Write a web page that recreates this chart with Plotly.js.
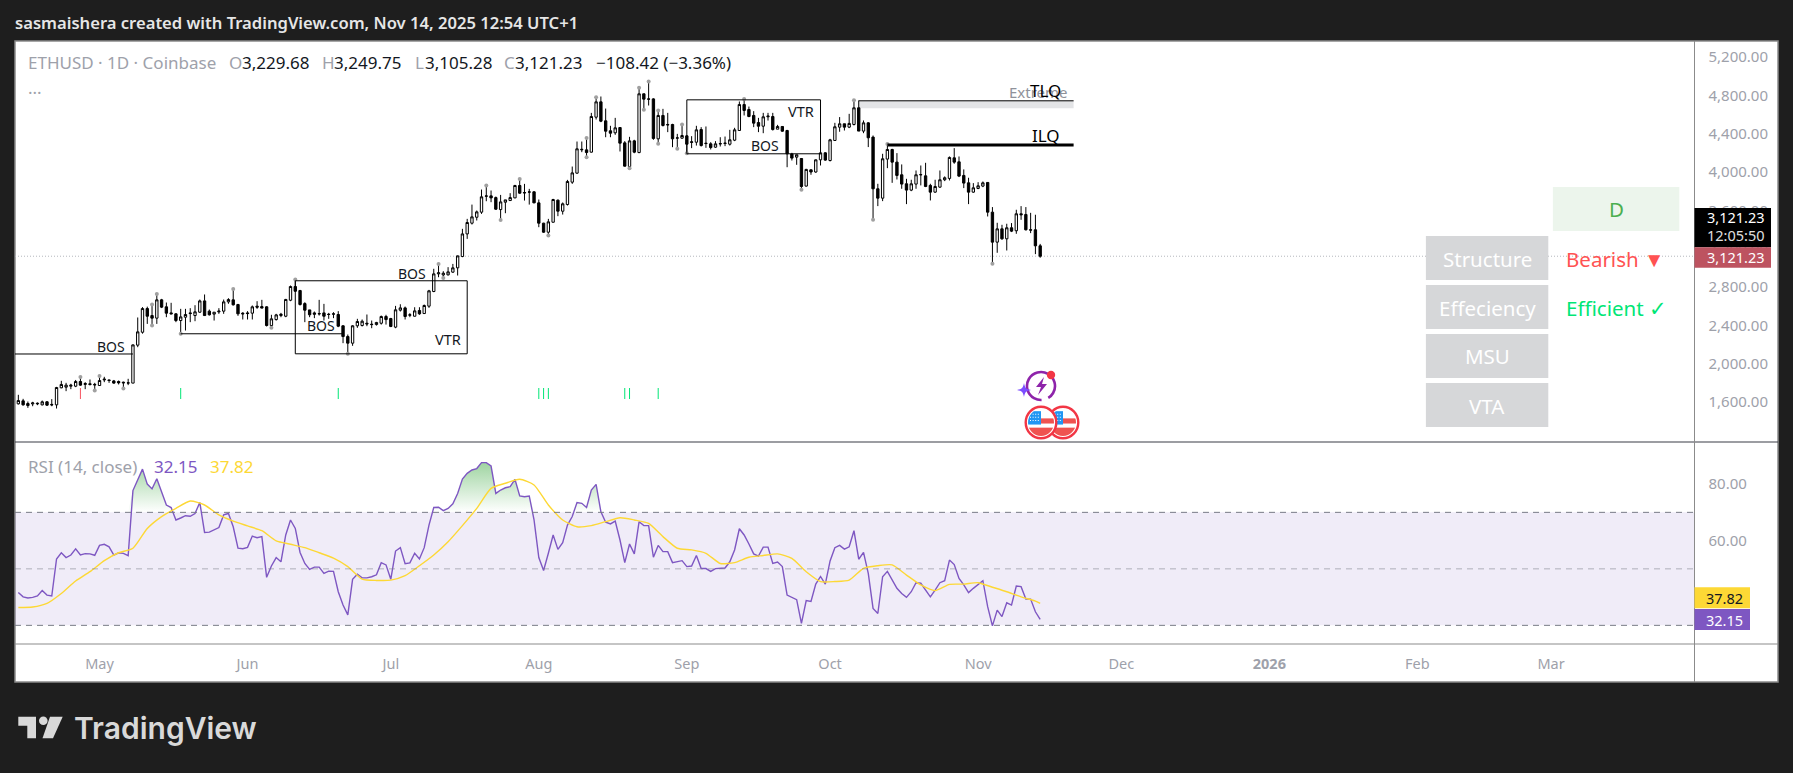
<!DOCTYPE html>
<html><head><meta charset="utf-8">
<script src="https://cdn.plot.ly/plotly-3.0.1.min.js"></script>
<style>html,body{margin:0;padding:0;background:#1e1e1e;overflow:hidden}#c{width:1793px;height:773px}</style>
</head><body><div id="c"></div>
<script>
const firstBar = '2025-04-14';
const opens = [
1581,1612,1584,1580,1580,1570,1602,1575,1570,1748,1755,1765,1765,1814,1783,1790,1784,
1772,1830,1830,1820,1814,1807,1797,1797,2193,2328,2575,2502,2475,2666,2593,2530,2520,2450,2485,2530,2502,2537,2655,2548,2517,2540,2548,2645,2666,2617,2527,
2530,2527,2600,2596,2593,2398,2460,2502,2495,2662,2805,2763,2627,2561,2530,2523,2530,2516,2520,2513,2395,2283,2214,2395,2398,2422,2412,2408,2422,2492,
2471,2381,2558,2582,2505,2495,2555,2523,2600,2753,2937,2926,2927,2955,3000,3118,3354,3466,3528,3581,3747,3751,3733,3608,3685,3702,3730,3859,3786,3790,3793,
3678,3466,3372,3476,3706,3591,3661,3894,3988,4231,4231,4207,4572,4732,4534,4430,4409,4464,4304,4057,4325,4203,4816,4763,4763,4346,4590,4496,4496,4353,4353,
4377,4308,4311,4443,4301,4294,4259,4297,4297,4290,4332,4433,4704,4652,4590,4516,4478,4576,4579,4447,4475,4433,4187,4155,4141,3853,4023,4000,4127,4200,
4120,4329,4468,4503,4468,4496,4670,4427,4513,4364,3825,3727,4135,4235,4103,3971,3877,3811,3874,3974,3960,3860,3790,3842,3919,3933,4148,4106,3964,3887,3790,
3828,3853,3891,3581,3268,3407,3303,3418,3387,3564,3557,3397,3397,3229.68];
const highs = [
1675,1633,1605,1602,1595,1615,1610,1630,1758,1821,1800,1790,1830,1860,1807,1835,1800,
1870,1863,1832,1830,1824,1812,1842,2200,2482,2590,2595,2617,2728,2676,2638,2635,2527,2572,2572,2579,2610,2669,2722,2565,2537,2579,2669,2683,2780,2624,2537,
2548,2607,2652,2666,2600,2510,2520,2530,2676,2815,2878,2770,2641,2561,2544,2666,2624,2530,2537,2548,2401,2304,2401,2468,2461,2513,2450,2436,2502,2510,
2478,2603,2620,2596,2527,2589,2589,2617,2770,2990,3041,2965,3007,3041,3128,3407,3511,3660,3598,3817,3859,3807,3744,3761,3709,3779,3866,3928,3876,3824,3800,
3713,3470,3511,3720,3713,3682,3918,4057,4318,4318,4356,4617,4781,4788,4662,4482,4565,4468,4322,4367,4336,4878,4816,4944,4770,4642,4659,4617,4503,4398,4496,
4384,4374,4482,4468,4475,4311,4322,4363,4370,4440,4461,4736,4763,4683,4635,4565,4617,4617,4617,4492,4478,4440,4200,4180,4145,4033,4027,4131,4225,4207,
4346,4513,4573,4503,4607,4750,4746,4538,4520,4381,3877,4190,4291,4242,4197,4079,3929,3919,4016,4068,4096,3877,3919,4016,3954,4162,4249,4162,4027,3940,3884,
3894,3901,3894,3634,3470,3449,3460,3467,3606,3644,3634,3574,3554,3249.75];
const lows = [
1574,1563,1539,1556,1567,1565,1558,1556,1532,1744,1713,1734,1755,1770,1734,1772,1720,
1770,1807,1800,1790,1783,1741,1776,1797,2172,2313,2415,2398,2415,2580,2485,2516,2433,2311,2346,2433,2443,2530,2499,2502,2450,2520,2520,2625,2607,2499,2461,
2461,2461,2572,2578,2388,2374,2450,2485,2485,2652,2750,2607,2433,2485,2475,2502,2450,2468,2475,2381,2214,2103,2186,2374,2388,2391,2370,2398,2408,2408,
2381,2370,2544,2461,2485,2492,2510,2520,2582,2746,2902,2895,2920,2948,2920,3111,3302,3452,3494,3563,3695,3685,3605,3500,3570,3702,3727,3772,3702,3660,3675,
3424,3365,3337,3473,3539,3556,3650,3876,3981,4207,4155,4203,4548,4520,4363,4363,4388,4214,4057,4040,4196,4196,4649,4694,4336,4294,4475,4416,4259,4242,4346,
4196,4249,4276,4266,4252,4235,4252,4266,4270,4276,4322,4429,4590,4572,4468,4416,4405,4537,4433,4447,4420,4050,4120,4075,3814,3849,3971,3992,4068,4117,
4110,4326,4420,4433,4458,4486,4427,4405,4260,3501,3644,3696,4040,3887,3922,3825,3665,3800,3825,3860,3842,3703,3783,3835,3905,3912,4086,3947,3832,3665,3783,
3821,3842,3536,3042,3157,3293,3181,3373,3355,3501,3390,3362,3143,3105.28];
const closes = [
1615,1570,1563,1590,1586,1602,1567,1570,1751,1783,1776,1775,1814,1776,1793,1783,1779,
1824,1838,1825,1797,1800,1800,1800,2196,2332,2575,2495,2475,2666,2590,2527,2520,2450,2488,2513,2523,2541,2655,2502,2510,2537,2548,2645,2669,2614,2520,2520,
2523,2593,2590,2580,2398,2468,2509,2516,2670,2805,2756,2617,2558,2510,2516,2520,2495,2513,2517,2391,2283,2214,2395,2440,2443,2415,2408,2430,2492,2460,
2388,2562,2582,2492,2510,2551,2520,2607,2760,2937,2948,2944,2958,3000,3125,3354,3473,3532,3584,3741,3750,3730,3612,3688,3709,3733,3859,3779,3782,3792,3678,
3466,3372,3480,3713,3591,3668,3901,3991,4242,4236,4203,4579,4732,4530,4426,4405,4461,4301,4061,4325,4207,4816,4760,4760,4350,4590,4485,4492,4346,4356,4381,
4290,4315,4440,4276,4297,4255,4294,4294,4301,4336,4440,4704,4642,4579,4510,4478,4576,4583,4443,4475,4426,4190,4145,4180,3849,4027,4000,4127,4200,4124,
4336,4472,4503,4468,4507,4670,4427,4513,4357,3825,3727,4138,4235,4103,3964,3874,3811,3877,3971,3971,3849,3790,3849,3919,3940,4152,4103,3957,3884,3790,3835,
3856,3887,3581,3268,3407,3303,3418,3383,3564,3554,3397,3394,3229.65,3121.23];
const rsi = [
41.6,40.1,39.7,39.9,40.4,42.3,40.7,40.4,53.5,55.7,54.0,54.9,57.1,54.9,55.4,55.3,54.8,58.3,58.7,57.8,54.9,55.7,55.5,54.7,
77.7,81.4,85.3,80.0,78.3,81.9,77.3,72.6,71.7,67.3,
68.0,68.8,68.6,69.6,73.5,62.9,63.0,63.9,64.6,69.1,
69.6,64.9,57.3,57.1,57.6,61.6,61.0,61.4,47.0,51.0,
54.0,52.5,62.0,67.3,64.3,55.8,51.9,49.8,50.6,50.6,
48.4,49.2,49.1,41.9,37.2,33.7,46.3,48.1,46.8,46.8,
47.2,47.9,52.2,51.4,46.3,56.3,57.5,51.8,52.1,55.5,
53.5,57.5,65.5,71.7,71.8,70.6,71.4,73.0,76.7,81.8,
83.8,85.0,85.5,87.6,87.6,86.4,76.7,77.9,78.7,79.1,
81.7,75.8,75.5,75.8,67.3,54.0,49.4,55.5,62.0,56.9,
59.3,65.5,68.5,73.5,73.2,71.7,77.9,79.9,
70.2,66.5,65.9,66.9,60.2,52.2,58.8,55.3,
66.7,65.3,65.3,54.1,58.3,56.1,56.1,52.2,52.5,52.9,
50.8,51.0,54.7,50.1,50.1,49.1,50.1,50.2,50.3,52.5,
56.7,64.2,62.0,58.8,55.3,54.5,57.7,57.7,51.9,52.4,
50.8,40.7,39.9,39.1,30.7,38.8,38.5,44.6,47.3,44.6,
52.8,57.5,58.3,57.0,57.8,63.5,53.4,55.8,48.4,36.0,
34.2,47.2,49.1,46.0,43.1,41.3,39.9,41.9,45.1,44.9,
42.5,40.1,42.5,45.1,45.8,53.1,51.5,46.6,44.3,41.6,
43.1,44.3,45.8,36.6,29.8,35.4,33.1,38.0,37.2,43.9,
43.7,39.3,39.3,34.8,32.15];
// RSI moving average, read every third bar, plus the final bar
const rsiMa = [
36.3,36.5,37.8,41.3,45.7,49.0,52.9,55.7,57.3,64.3,
68.5,71.4,74.0,72.6,69.1,66.9,65.2,63.5,59.9,58.7,
57.5,55.7,53.8,50.8,46.4,45.9,46.0,47.6,51.1,54.9,
59.6,65.3,71.4,78.5,80.3,81.7,79.7,72.6,67.3,64.9,
65.3,66.7,68.1,67.3,66.1,61.4,57.3,56.7,55.5,51.9,
52.2,54.1,54.7,55.3,53.7,49.0,45.5,45.5,46.0,50.2,
51.1,51.4,47.8,44.3,42.3,44.5,44.6,45.1,43.5,41.9,
40.1,38.6,37.82];
const swingHighDays = ['2025-04-27','2025-05-01','2025-05-12','2025-05-13','2025-05-29','2025-06-11','2025-07-11','2025-07-21','2025-07-28','2025-08-11','2025-08-13','2025-08-22','2025-08-24','2025-08-26','2025-08-31','2025-09-13','2025-10-06','2025-10-13'];
const swingLowDays = ['2025-04-30','2025-05-06','2025-05-12','2025-05-18','2025-06-06','2025-06-22','2025-07-12','2025-07-24','2025-08-03','2025-08-11','2025-08-20','2025-08-23','2025-08-26','2025-08-30','2025-09-01','2025-09-25','2025-10-10','2025-11-04'];
const redTickDays = ['2025-04-27'];
const greenTickDays = ['2025-05-18','2025-06-20','2025-08-01','2025-08-02','2025-08-03','2025-08-19','2025-08-20','2025-08-26'];
const signalTickRange = [1631,1746];
const priceTicks = [1600,2000,2400,2800,3200,3600,4000,4400,4800,5200];
const rsiTicks = [60,80];
const monthTicks = ['2025-05-01','2025-06-01','2025-07-01','2025-08-01','2025-09-01','2025-10-01','2025-11-01','2025-12-01','2026-01-01','2026-02-01','2026-03-01'];
const monthLabels = ['May','Jun','Jul','Aug','Sep','Oct','Nov','Dec','<b>2026</b>','Feb','Mar'];

const W=1793,H=773, FONT='"Noto Sans", sans-serif';
const GREY='#9ea1aa', PURPLE='#7e57c2', YELLOW='#fdd835';
const px=x=>x/W, py=y=>1-y/H;

const dates=[]; { const d=new Date(firstBar+'T00:00:00Z');
  for(let i=0;i<closes.length;i++){dates.push(new Date(d.getTime()+i*864e5).toISOString().slice(0,10));} }
const idx=d=>dates.indexOf(d);
const maDates=rsiMa.map((_,k)=>k===rsiMa.length-1?dates[dates.length-1]:dates[k*3]);
const last=closes[closes.length-1];

function vTicks(days){const x=[],y=[];days.forEach(d=>{x.push(d,d,null);y.push(signalTickRange[0],signalTickRange[1],null);});return {x,y};}
const red=vTicks(redTickDays), green=vTicks(greenTickDays);

const traces=[
 {type:'candlestick',x:dates,open:opens,high:highs,low:lows,close:closes,xaxis:'x',yaxis:'y',whiskerwidth:0,
  increasing:{line:{color:'#000',width:1},fillcolor:'#fff'},decreasing:{line:{color:'#000',width:1},fillcolor:'#000'},hoverinfo:'skip'},
 {type:'scatter',mode:'markers',x:swingHighDays,y:swingHighDays.map(d=>highs[idx(d)]),xaxis:'x',yaxis:'y',marker:{size:4,color:'#a0a0a0'},hoverinfo:'skip'},
 {type:'scatter',mode:'markers',x:swingLowDays,y:swingLowDays.map(d=>lows[idx(d)]),xaxis:'x',yaxis:'y',marker:{size:4,color:'#a0a0a0'},hoverinfo:'skip'},
 {type:'scatter',mode:'lines',x:red.x,y:red.y,xaxis:'x',yaxis:'y',line:{color:'#f7525f',width:1},hoverinfo:'skip'},
 {type:'scatter',mode:'lines',x:green.x,y:green.y,xaxis:'x',yaxis:'y',line:{color:'#00e676',width:1},hoverinfo:'skip'},
 {type:'scatter',mode:'lines',x:dates,y:dates.map(()=>70),xaxis:'x',yaxis:'y2',line:{width:0,color:'rgba(0,0,0,0)'},hoverinfo:'skip'},
 {type:'scatter',mode:'lines',x:dates,y:rsi.map(v=>Math.max(v,70)),xaxis:'x',yaxis:'y2',line:{width:0,color:'rgba(0,0,0,0)'},fill:'tonexty',
  fillgradient:{type:'vertical',start:70,stop:88,colorscale:[[0,'rgba(76,175,80,0)'],[1,'rgba(76,175,80,0.55)']]},hoverinfo:'skip'},
 {type:'scatter',mode:'lines',x:dates,y:rsi,xaxis:'x',yaxis:'y2',line:{color:PURPLE,width:1.4},hoverinfo:'skip'},
 {type:'scatter',mode:'lines',x:maDates,y:rsiMa,xaxis:'x',yaxis:'y2',line:{color:YELLOW,width:1.4,shape:'spline',smoothing:0.6},hoverinfo:'skip'}
];

function rectP(x0,y0,x1,y1,fill,extra){return Object.assign({type:'rect',xref:'paper',yref:'paper',x0:px(x0),x1:px(x1),y0:py(y0),y1:py(y1),fillcolor:fill,line:{width:0},layer:'above'},extra||{});}
function lineP(x0,y0,x1,y1,color,width){return {type:'line',xref:'paper',yref:'paper',x0:px(x0),x1:px(x1),y0:py(y0),y1:py(y1),line:{color,width},layer:'above'};}
function polyP(pts,fill){return {type:'path',xref:'paper',yref:'paper',path:'M'+pts.map(p=>px(p[0])+','+py(p[1])).join('L')+'Z',fillcolor:fill,line:{width:0},layer:'above'};}
function boxD(x0,x1,y0,y1){return {type:'rect',xref:'x',yref:'y',x0,x1,y0,y1,line:{color:'#000',width:1},fillcolor:'rgba(0,0,0,0)',layer:'above'};}
function lineD(x0,x1,y,w){return {type:'line',xref:'x',yref:'y',x0,x1,y0:y,y1:y,line:{color:'#000',width:w},layer:'above'};}
function bandLine(v,op){return {type:'line',xref:'x',yref:'y2',x0:'2025-04-13 07:12',x1:'2026-03-31 00:45',y0:v,y1:v,line:{color:'rgba(120,123,134,'+op+')',width:1,dash:'6px,5px'},layer:'above'};}

const shapes=[
 {type:'rect',xref:'paper',yref:'paper',x0:px(15),x1:px(1778),y0:py(682),y1:py(41),fillcolor:'#fff',line:{color:'#8b8b8b',width:1.5},layer:'below'},
 {type:'rect',xref:'x',yref:'y2',x0:'2025-04-13 07:12',x1:'2026-03-31 00:45',y0:30,y1:70,fillcolor:'rgba(126,87,194,0.115)',line:{width:0},layer:'below'},
 bandLine(70,1),bandLine(50,0.55),bandLine(30,1),
 {type:'line',xref:'x',yref:'y',x0:'2025-04-13 07:12',x1:'2026-03-31 00:45',y0:last,y1:last,line:{color:'#b4b7bd',width:1,dash:'1px,2px'},layer:'below'},
 lineD('2025-04-13 07:12','2025-05-08',2101,1),
 lineD('2025-05-18','2025-06-21',2312,1),
 boxD('2025-06-11','2025-07-17',2103,2865),
 boxD('2025-09-01','2025-09-29',4190,4753),
 {type:'rect',xref:'x',yref:'y',x0:'2025-10-07',x1:'2025-11-21',y0:4666,y1:4743,fillcolor:'#e3e4e6',line:{width:0},layer:'below'},
 lineD('2025-10-07','2025-11-21',4743,1),
 lineD('2025-10-13','2025-11-21',4283,3),
 lineP(15,442,1778,442,'#3a3d46',1.2),
 lineP(15,644,1778,644,'#8b8b8b',1.2),
 lineP(1694.5,41,1694.5,682,'#8b8b8b',1),
 rectP(1552.9,187,1679.3,231,'#ecf5ec'),
 rectP(1425.9,236,1548.3,280,'#d6d7d9'),
 rectP(1425.9,285,1548.3,329,'#d6d7d9'),
 rectP(1425.9,334,1548.3,378,'#d6d7d9'),
 rectP(1425.9,383,1548.3,427,'#d6d7d9'),
 rectP(1694.5,208,1771,247.3,'#000'),
 rectP(1694.5,247.3,1771,267.7,'#bd5360'),
 rectP(1694.5,587.3,1750,608.3,YELLOW),
 rectP(1694.5,609,1750,630,PURPLE),
 polyP([[18.3,716.7],[36,716.7],[36,738.3],[27.3,738.3],[27.3,725.7],[18.3,725.7]],'#d9d9d9'),
 polyP([[50,716.7],[62.7,716.7],[53,738.3],[42.5,738.3]],'#d9d9d9'),
 {type:'circle',xref:'paper',yref:'paper',x0:px(39),x1:px(47.6),y0:py(725),y1:py(716.4),fillcolor:'#d9d9d9',line:{width:0},layer:'above'}
];

function T(text,x,y,size,color,opt){return Object.assign({text,xref:'paper',yref:'paper',x:px(x),y:py(y),xanchor:'left',yanchor:'middle',showarrow:false,borderpad:0,font:{family:FONT,size,color}},opt||{});}
const C={xanchor:'center'}, DK='#131722', LG=17, TB=20.5;
const annotations=[
 T('sasmaishera created with TradingView.com, Nov 14, 2025 12:54 UTC+1',14,23,16.6,'#e6e6e6',{font:{family:FONT,size:16.6,color:'#e6e6e6',weight:600}}),
 T('ETHUSD · 1D · Coinbase',27,63,LG,GREY),
 T('O',228,63,LG,GREY),T('3,229.68',241,63,LG,DK),
 T('H',321,63,LG,GREY),T('3,249.75',333,63,LG,DK),
 T('L',414,63,LG,GREY),T('3,105.28',424,63,LG,DK),
 T('C',503,63,LG,GREY),T('3,121.23',514,63,LG,DK),
 T('−108.42 (−3.36%)',595,63,LG,DK),
 T('...',27,88,LG,GREY),
 T('BOS',111,346,14,DK,C),T('BOS',320.7,325,14,DK,C),T('BOS',411.8,273.3,14,DK,C),T('BOS',765,145,14,DK,C),
 T('VTR',448,339,14.5,DK,C),T('VTR',801,110.7,14.5,DK,C),
 T('Extreme',1038.6,91.7,15,'#8f929b',C),
 T('TLQ',1045.7,90.7,17,'#000',C),
 T('ILQ',1046,135,17,'#000',C),
 T('D',1616,209,TB,'#4caf50',C),
 T('Structure',1487,258.5,TB,'#fff',C),T('Effeciency',1487,307.5,TB,'#fff',C),
 T('MSU',1487,356.5,TB,'#fff',C),T('VTA',1487,405.5,TB,'#fff',C),
 T('Bearish ▼',1614.6,259,TB,'#ff5252',C),T('Efficient ✓',1616,307.7,TB,'#00e676',C),
 T('3,121.23',1766,217,14.5,'#fff',{xanchor:'right'}),
 T('12:05:50',1766,235,14.5,'#e0e0e0',{xanchor:'right'}),
 T('3,121.23',1766,256.5,14.5,'#fff',{xanchor:'right'}),
 T('37.82',1744,598,14.5,'#131722',{xanchor:'right'}),
 T('32.15',1744,620,14.5,'#fff',{xanchor:'right'}),
 T('RSI (14, close)',27,466,LG,GREY),
 T('32.15',153,466,LG,PURPLE),
 T('37.82',208.5,466,LG,YELLOW),
 T('TradingView',73,728,30,'#d9d9d9',{font:{family:'Inter, sans-serif',size:30,color:'#d9d9d9',weight:600}})
];

const bolt=`<svg xmlns="http://www.w3.org/2000/svg" viewBox="0 0 40 33"><circle cx="24" cy="17" r="14" fill="none" stroke="#8e24aa" stroke-width="2.6" pathLength="100" stroke-dasharray="58 8 34" transform="rotate(-150 24 17)"/><path d="M27 8l-8 10h5l-3 8 9-11h-5z" fill="#8e24aa"/><path d="M7 14c1 5 2 6 7 7-5 1-6 2-7 7-1-5-2-6-7-7 5-1 6-2 7-7z" fill="#7c4dff"/><circle cx="34" cy="6" r="4.2" fill="#f23645"/></svg>`;
const flag=`<svg xmlns="http://www.w3.org/2000/svg" viewBox="0 0 34 34"><defs><clipPath id="a"><circle cx="17" cy="17" r="13"/></clipPath></defs><circle cx="17" cy="17" r="15.3" fill="#fff" stroke="#f23645" stroke-width="2.4"/><g clip-path="url(#a)"><rect x="3" y="22" width="28" height="10" fill="#ef5350"/><rect x="17" y="13" width="14" height="5" fill="#ef5350"/><rect x="4" y="6" width="13" height="13" fill="#2196f3"/><path d="M6 9h10M6 12h10M6 15h10" stroke="#fff" stroke-width="1" stroke-dasharray="1 1.6"/></g></svg>`;
const uri=s=>'data:image/svg+xml;charset=utf-8,'+encodeURIComponent(s);
const img=(s,x0,y0,w,h)=>({source:uri(s),xref:'paper',yref:'paper',x:px(x0),y:py(y0),sizex:w/W,sizey:h/H,xanchor:'left',yanchor:'top',sizing:'stretch',layer:'above'});

const layout={
 width:W,height:H,margin:{l:0,r:0,t:0,b:0},paper_bgcolor:'#1e1e1e',plot_bgcolor:'rgba(0,0,0,0)',showlegend:false,dragmode:false,
 xaxis:{type:'date',domain:[px(15),px(1694.5)],range:['2025-04-13 07:12','2026-03-31 00:45'],anchor:'y2',rangeslider:{visible:false},showgrid:false,zeroline:false,showline:false,
  tickmode:'array',tickvals:monthTicks,ticktext:monthLabels,ticks:'outside',ticklen:7,tickcolor:'rgba(0,0,0,0)',tickfont:{family:FONT,size:14.5,color:GREY}},
 yaxis:{domain:[py(442),py(41)],range:[1182.6,5367],side:'right',anchor:'x',showgrid:false,zeroline:false,showline:false,
  tickmode:'array',tickvals:priceTicks,tickformat:',.2f',ticks:'outside',ticklen:10,tickcolor:'rgba(0,0,0,0)',tickfont:{family:FONT,size:15,color:GREY}},
 yaxis2:{domain:[py(644),py(442)],range:[23.4,94.9],side:'right',anchor:'x',showgrid:false,zeroline:false,showline:false,
  tickmode:'array',tickvals:rsiTicks,tickformat:'.2f',ticks:'outside',ticklen:10,tickcolor:'rgba(0,0,0,0)',tickfont:{family:FONT,size:15,color:GREY}},
 shapes,annotations,
 images:[img(bolt,1017,369,40,33),img(flag,1046,405,34,35),img(flag,1024,405,34,35)]
};
Plotly.newPlot('c',traces,layout,{staticPlot:true,displayModeBar:false});
</script></body></html>
